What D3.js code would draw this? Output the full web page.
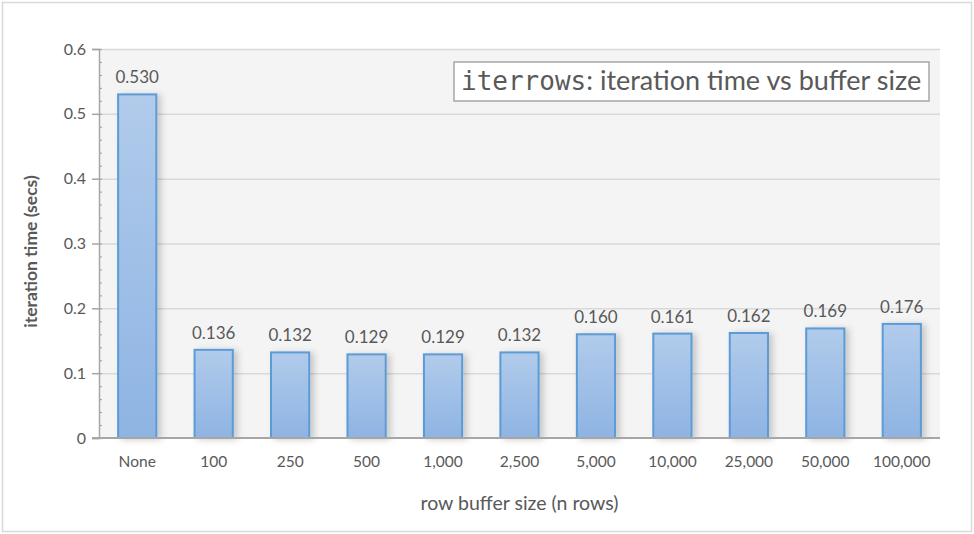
<!DOCTYPE html>
<html>
<head>
<meta charset="utf-8">
<script src="https://cdn.jsdelivr.net/npm/d3@7"></script>
<style>
  body { margin: 0; background: #fff; }
  svg text { font-family: Lato, "Open Sans", sans-serif; }
</style>
</head>
<body>
<div id="chart"></div>
<script>
// Data
const categories = ['None', '100', '250', '500', '1,000', '2,500', '5,000', '10,000', '25,000', '50,000', '100,000'];
const iterTimes = [0.530, 0.136, 0.132, 0.129, 0.129, 0.132, 0.160, 0.161, 0.162, 0.169, 0.176];
const yTicks = [0, 0.1, 0.2, 0.3, 0.4, 0.5, 0.6];

const W = 974, H = 534;
const margin = { top: 49, right: 34, bottom: 96, left: 99 };
const width = W - margin.left - margin.right;
const height = H - margin.top - margin.bottom;

const root = d3.select('#chart').append('svg')
    .attr('width', W)
    .attr('height', H);

// Gradient + shadow defs
const defs = root.append('defs');
const grad = defs.append('linearGradient')
    .attr('id', 'barGrad')
    .attr('x1', 0).attr('y1', 0).attr('x2', 0).attr('y2', 1);
grad.append('stop').attr('offset', '0%').attr('stop-color', '#b1cbeb');
grad.append('stop').attr('offset', '100%').attr('stop-color', '#8eb4e3');

const shadow = defs.append('filter')
    .attr('id', 'shadow')
    .attr('x', '-20%').attr('y', '-10%').attr('width', '160%').attr('height', '120%');
shadow.append('feDropShadow')
    .attr('dx', 4).attr('dy', 1)
    .attr('stdDeviation', 3)
    .attr('flood-color', '#000')
    .attr('flood-opacity', 0.18);

// Outer border
root.append('rect')
    .attr('x', 2.5).attr('y', 2.5)
    .attr('width', W - 5).attr('height', H - 5)
    .attr('fill', '#fff')
    .attr('stroke', '#d9d9d9')
    .attr('stroke-width', 1.5);

const svg = root.append('g')
    .attr('transform', `translate(${margin.left},${margin.top})`);

// Scales
const x = d3.scaleBand()
    .domain(categories)
    .range([0, width])
    .paddingInner(0.5)
    .paddingOuter(0.25);

const y = d3.scaleLinear()
    .domain([0, 0.6])
    .range([height, 0]);

// Plot area background
svg.append('rect')
    .attr('width', width)
    .attr('height', height)
    .attr('fill', '#f4f4f4');

// Grid lines
svg.append('g')
    .attr('class', 'grid')
    .call(d3.axisLeft(y).tickValues(yTicks.slice(1)).tickSize(-width).tickFormat(''))
    .call(g => g.select('.domain').remove())
    .call(g => g.selectAll('line').attr('stroke', '#d9d9d9').attr('stroke-width', 1.5));

// Minor ticks on y axis
svg.append('g')
    .call(d3.axisLeft(y).tickValues(d3.range(0, 0.6001, 0.02)).tickSize(-3).tickFormat(''))
    .call(g => g.select('.domain').remove())
    .call(g => g.selectAll('line').attr('stroke', '#a6a6a6').attr('stroke-width', 1.2));

// Bars
svg.selectAll('.bar')
    .data(iterTimes)
    .enter()
    .append('rect')
    .attr('class', 'bar')
    .attr('x', (d, i) => x(categories[i]))
    .attr('y', d => y(d))
    .attr('width', x.bandwidth())
    .attr('height', d => height - y(d))
    .attr('fill', 'url(#barGrad)')
    .attr('stroke', '#5b9bd5')
    .attr('stroke-width', 2)
    .attr('filter', 'url(#shadow)');

// Value labels
svg.selectAll('.value')
    .data(iterTimes)
    .enter()
    .append('text')
    .attr('class', 'value')
    .attr('x', (d, i) => x(categories[i]) + x.bandwidth() / 2)
    .attr('y', d => y(d) - 11)
    .attr('text-anchor', 'middle')
    .style('font-size', '17px')
    .style('fill', '#595959')
    .text(d => d3.format('.3f')(d));

// Y axis
svg.append('g')
    .attr('class', 'axis')
    .call(d3.axisLeft(y)
        .tickValues(yTicks)
        .tickSize(7)
        .tickPadding(6)
        .tickFormat(d => d === 0 ? '0' : d3.format('.1f')(d)))
    .call(g => g.select('.domain').attr('stroke', '#a6a6a6').attr('stroke-width', 1.5))
    .call(g => g.selectAll('line').attr('stroke', '#a6a6a6').attr('stroke-width', 1.5))
    .call(g => g.selectAll('text')
        .style('font-size', '16px')
        .style('fill', '#595959')
        .style('font-family', 'Lato, sans-serif'));

// X axis
svg.append('g')
    .attr('class', 'axis')
    .attr('transform', `translate(0,${height})`)
    .call(d3.axisBottom(x).tickSize(0).tickPadding(18))
    .call(g => g.select('.domain').attr('stroke', '#a6a6a6').attr('stroke-width', 2).attr('d', `M-7,0H${width}`))
    .call(g => g.selectAll('text')
        .style('font-size', '15.5px')
        .style('fill', '#595959')
        .style('font-family', 'Lato, sans-serif'));

// Y axis title
svg.append('text')
    .attr('transform', 'rotate(-90)')
    .attr('x', -(height / 2) - 8)
    .attr('y', -margin.left + 37)
    .attr('text-anchor', 'middle')
    .style('font-size', '17.5px')
    .style('font-weight', '700')
    .style('fill', '#595959')
    .text('iteration time (secs)');

// X axis title
svg.append('text')
    .attr('x', width / 2)
    .attr('y', height + 72)
    .attr('text-anchor', 'middle')
    .style('font-size', '19.5px')
    .style('fill', '#595959')
    .text('row buffer size (n rows)');

// Title box
const tb = svg.append('g').attr('transform', `translate(${454 - margin.left},${62 - margin.top})`);
tb.append('rect')
    .attr('width', 475)
    .attr('height', 39)
    .attr('fill', '#fff')
    .attr('stroke', '#a6a6a6')
    .attr('stroke-width', 1.5);
const title = tb.append('text')
    .attr('x', 7)
    .attr('y', 28)
    .style('font-size', '27px')
    .style('fill', '#595959');
title.append('tspan')
    .style('font-family', '"DejaVu Sans Mono", monospace')
    .style('font-size', '26px')
    .text('iterrows');
title.append('tspan')
    .text(': iteration time vs buffer size');
</script>
</body>
</html>
